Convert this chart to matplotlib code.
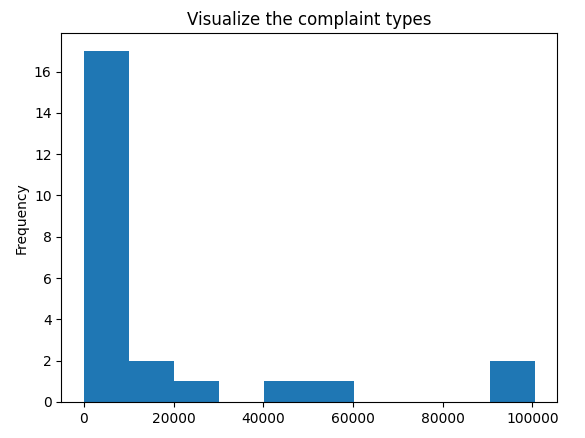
import matplotlib
matplotlib.use("Agg")
import matplotlib.pyplot as plt

# complaint counts per complaint type
complaint_counts = [3, 120, 350, 610, 980, 1450, 1900, 2300, 2800, 3400,
                    4100, 4900, 5600, 6300, 7200, 8100, 9300,
                    12500, 17800,
                    24600,
                    45100,
                    55700,
                    94800, 100500]

fig = plt.figure(figsize=(5.85, 4.38), dpi=100)
fig.subplots_adjust(left=0.1048, right=0.9526, top=0.924, bottom=0.0822)
ax = fig.add_subplot(111)
ax.hist(complaint_counts, bins=10)
ax.set_ylabel('Frequency')
ax.set_title('Visualize the complaint types')
fig.savefig('out.png', dpi=100)
